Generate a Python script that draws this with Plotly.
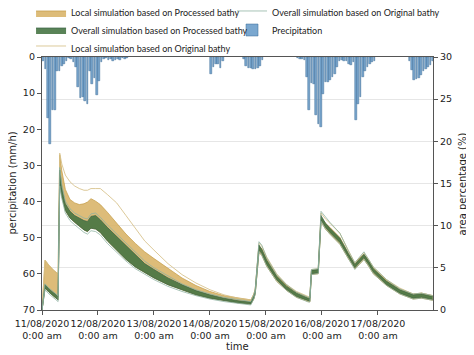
import pandas as pd
import plotly.graph_objects as go

# ---------------- data ----------------
# simulation time points, hours after 11/08/2020 00:00
T_HOURS = [0, 0.5, 1.3, 3, 5, 6.9, 7.6, 8.5, 10, 12, 14, 16, 18, 19.5, 21, 23, 25,
           28, 32, 36, 40, 44, 48, 54, 60, 66, 72, 78, 84, 89.5, 90.8, 91.4, 93.0,
           94.2, 96.3, 100.6, 104.9, 109.1, 114.1, 114.8, 115.5, 118.4, 119.6, 121.5,
           123.4, 127.7, 131.3, 134.1, 136, 138, 140, 142, 147.7, 153.4, 159.1, 162.7, 167.5]

# area percentage (%) envelopes
LOCAL_PROC_HI = [0, 2.0, 5.9, 5.3, 4.7, 4.3, 18.4, 16.5, 14.3, 13.1, 12.7, 12.5, 12.6, 12.8, 13.2, 12.9, 12.5,
                 11.6, 10.3, 9.0, 7.9, 6.9, 6.1, 4.9, 3.8, 2.9, 2.2, 1.7, 1.4, 1.2, 1.9, 2.5, 7.6, 7.3, 6.1,
                 4.1, 2.9, 2.1, 1.5, 1.5, 4.7, 4.8, 11.0, 10.3, 9.8, 8.6, 6.8, 5.5, 6.1, 6.6, 5.9, 5.0, 3.5,
                 2.5, 1.9, 2.0, 1.7]
LOCAL_PROC_LO = [0, 1.0, 2.6, 2.1, 1.6, 1.2, 15.0, 13.5, 11.8, 10.9, 10.4, 9.9, 9.5, 9.3, 9.7, 9.6, 9.2,
                 8.2, 7.1, 6.0, 5.1, 4.4, 3.8, 3.0, 2.4, 1.8, 1.4, 1.1, 0.85, 0.7, 1.3, 1.9, 6.8, 6.5, 5.2,
                 3.4, 2.3, 1.5, 0.95, 0.95, 4.2, 4.3, 10.5, 9.6, 9.0, 7.8, 6.1, 4.9, 5.4, 6.0, 5.2, 4.3, 2.9,
                 1.9, 1.3, 1.4, 1.15]
OVERALL_PROC_HI = [0, 1.2, 3.0, 2.5, 2.0, 1.6, 16.6, 14.5, 12.6, 11.7, 11.2, 10.9, 10.6, 10.5, 11.1, 11.2, 10.7,
                   9.8, 8.7, 7.6, 6.6, 5.5, 4.8, 3.8, 3.0, 2.3, 1.8, 1.4, 1.1, 0.95, 1.7, 2.3, 7.7, 7.2, 5.9,
                   4.0, 2.8, 2.0, 1.4, 1.4, 4.7, 4.8, 11.2, 10.3, 9.7, 8.5, 6.7, 5.4, 6.0, 6.6, 5.8, 4.9, 3.4,
                   2.4, 1.8, 1.9, 1.6]
OVERALL_PROC_LO = [0, 1.0, 2.6, 2.1, 1.6, 1.2, 15.0, 13.5, 11.8, 10.9, 10.4, 9.9, 9.5, 9.3, 9.7, 9.6, 9.2,
                   8.2, 7.1, 6.0, 5.1, 4.4, 3.8, 3.0, 2.4, 1.8, 1.4, 1.1, 0.85, 0.7, 1.4, 2.0, 7.1, 6.7, 5.4,
                   3.6, 2.4, 1.6, 1.05, 1.05, 4.3, 4.4, 10.7, 9.8, 9.2, 8.0, 6.3, 5.0, 5.6, 6.2, 5.4, 4.5, 3.0,
                   2.0, 1.4, 1.5, 1.25]
LOCAL_ORIG_HI = [0, 2.0, 5.9, 5.3, 4.7, 4.3, 18.6, 17.3, 16.0, 15.2, 14.7, 14.4, 14.2, 14.2, 14.4, 14.4, 14.4,
                 13.7, 12.7, 11.2, 9.7, 8.2, 7.1, 5.5, 4.2, 3.2, 2.4, 1.8, 1.4, 1.2, 1.9, 2.5, 7.9, 7.6, 6.3,
                 4.3, 3.0, 2.2, 1.6, 1.6, 4.8, 4.9, 11.5, 10.8, 10.3, 9.1, 7.1, 5.6, 6.2, 6.8, 6.0, 5.1, 3.6,
                 2.6, 1.9, 2.0, 1.7]
LOCAL_ORIG_LO = [0, 1.1, 2.8, 2.3, 1.8, 1.4, 15.4, 13.9, 12.3, 11.4, 10.9, 10.5, 10.2, 10.1, 10.6, 10.6, 10.1,
                 9.1, 8.0, 6.9, 5.9, 5.0, 4.3, 3.4, 2.7, 2.0, 1.6, 1.2, 0.95, 0.8, 1.4, 2.0, 7.0, 6.6, 5.3,
                 3.5, 2.4, 1.6, 1.0, 1.0, 4.3, 4.4, 10.6, 9.7, 9.1, 7.9, 6.2, 4.9, 5.5, 6.1, 5.3, 4.4, 3.0,
                 2.0, 1.4, 1.5, 1.2]
OVERALL_ORIG_HI = [0, 1.2, 3.1, 2.6, 2.1, 1.7, 16.9, 14.8, 12.9, 12.0, 11.5, 11.2, 10.9, 10.8, 11.4, 11.5, 11.0,
                   10.1, 9.0, 7.9, 6.9, 5.8, 5.0, 4.0, 3.1, 2.4, 1.9, 1.5, 1.2, 1.0, 1.8, 2.4, 8.1, 7.7, 6.2,
                   4.2, 3.0, 2.1, 1.5, 1.5, 4.8, 4.9, 11.7, 11.0, 10.4, 9.1, 7.0, 5.6, 6.3, 6.9, 6.0, 5.1, 3.6,
                   2.5, 1.9, 2.0, 1.7]
OVERALL_ORIG_LO = [0, 0.9, 2.4, 1.9, 1.4, 1.0, 14.7, 13.2, 11.5, 10.6, 10.1, 9.6, 9.2, 9.0, 9.4, 9.3, 8.9,
                   7.9, 6.8, 5.8, 4.9, 4.2, 3.6, 2.8, 2.2, 1.7, 1.3, 1.0, 0.8, 0.6, 1.3, 1.9, 6.9, 6.5, 5.2,
                   3.4, 2.3, 1.5, 0.95, 0.95, 4.2, 4.3, 10.5, 9.6, 9.0, 7.8, 6.1, 4.8, 5.4, 6.0, 5.2, 4.3, 2.9,
                   1.9, 1.3, 1.4, 1.15]

# hourly precipitation (mm/h), hour index after 11/08/2020 00:00
PRECIP_HOUR = [0, 1, 2, 3, 4, 5, 6, 7, 8, 9, 10, 11,
               12, 13, 14, 15, 16, 17, 18, 19, 20, 21, 22, 23, 24, 25, 26, 27, 28, 29, 30, 31, 32, 33, 34, 35, 36,
               72, 73, 74, 75, 76, 77,
               86, 87, 88, 89, 90, 91, 92, 93, 94,
               109, 110, 111, 112, 113, 114, 115, 116, 117, 118, 119, 120, 121, 122, 123, 124, 125, 126, 127,
               128, 129, 130, 131, 132, 133, 134, 135, 136, 137, 138, 139, 140, 141, 142,
               157, 158, 159, 160, 161, 162, 163, 164, 165, 166, 167]
PRECIP_MM = [1.0, 3.3, 17.0, 24.0, 14.8, 14.8, 3.8, 3.8, 2.5, 2.0, 1.0, 0.4,
             0.5, 1.5, 2.7, 8.2, 11.4, 11.0, 12.3, 13.0, 4.0, 7.6, 5.8, 10.5, 6.6, 1.5, 0.5, 0.3, 0.8, 0.6, 1.0,
             0.8, 0.5, 0.8, 0.4, 0.6, 0.3,
             4.7, 2.7, 2.0, 1.8, 3.0, 1.0,
             0.5, 2.5, 3.0, 3.0, 3.2, 3.2, 3.0, 2.5, 0.8,
             0.3, 0.5, 0.5, 0.8, 5.5, 14.8, 7.2, 7.6, 16.0, 18.5, 19.4, 10.1, 6.9, 6.9, 6.5, 5.5, 4.7, 2.9, 1.0,
             0.8, 1.0, 1.2, 1.8, 2.1, 1.4, 17.5, 13.0, 11.0, 5.5, 4.0, 2.7, 2.0, 1.5, 1.0,
             1.0, 3.7, 6.4, 6.1, 5.8, 4.9, 4.0, 3.2, 2.8, 2.1, 1.0]

DAY_TICKS = ["2020-08-11", "2020-08-12", "2020-08-13", "2020-08-14", "2020-08-15", "2020-08-16", "2020-08-17"]
DAY_LABELS = ["11/08/2020<br>0:00 am", "12/08/2020<br>0:00 am", "13/08/2020<br>0:00 am", "14/08/2020<br>0:00 am",
              "15/08/2020<br>0:00 am", "16/08/2020<br>0:00 am", "17/08/2020<br>0:00 am"]

# ---------------- figure ----------------
base = pd.Timestamp("2020-08-11 00:00")
t_sim = [base + pd.Timedelta(hours=h) for h in T_HOURS]
t_bar = [base + pd.Timedelta(hours=h + 0.5) for h in PRECIP_HOUR]

FONT = "DejaVu Sans"
fig = go.Figure()

# precipitation bars (left axis, reversed)
fig.add_trace(go.Bar(
    x=t_bar, y=PRECIP_MM, width=0.68 * 3600000, name="Precipitation",
    marker=dict(color="#7aa7cf", line=dict(color="#386a95", width=0.5)),
    yaxis="y", legend="legend4"))

def band(lo, hi, name, fillcolor, linecolor, width, legend):
    fig.add_trace(go.Scatter(x=t_sim, y=lo, yaxis="y2", mode="lines",
                             line=dict(color=linecolor, width=width),
                             showlegend=False, legendgroup=name, hoverinfo="skip"))
    fig.add_trace(go.Scatter(x=t_sim, y=hi, yaxis="y2", mode="lines", fill="tonexty",
                             fillcolor=fillcolor, line=dict(color=linecolor, width=width),
                             name=name, legendgroup=name, legend=legend))

band(LOCAL_PROC_LO, LOCAL_PROC_HI, "Local simulation based on Processed bathy",
     "rgba(215,176,98,0.85)", "rgba(196,156,70,0.9)", 0.8, "legend")
band(LOCAL_ORIG_LO, LOCAL_ORIG_HI, "Local simulation based on Original bathy",
     "rgba(0,0,0,0)", "rgba(214,192,135,0.95)", 0.9, "legend5")
band(OVERALL_PROC_LO, OVERALL_PROC_HI, "Overall simulation based on Processed bathy",
     "rgba(66,114,64,0.88)", "rgba(60,100,70,0.9)", 0.8, "legend3")
band(OVERALL_ORIG_LO, OVERALL_ORIG_HI, "Overall simulation based on Original bathy",
     "rgba(0,0,0,0)", "rgba(140,178,160,0.85)", 0.9, "legend2")

axis_common = dict(showline=True, linecolor="#555555", linewidth=1.3, ticks="outside",
                   ticklen=4, tickcolor="#555555", zeroline=False, automargin=False,
                   tickfont=dict(family=FONT, size=9.5, color="#222222"))

title_font = dict(family=FONT, size=10, color="#222222")
leg = dict(orientation="v", xref="paper", yref="paper", xanchor="left", yanchor="middle",
           itemwidth=30, bgcolor="rgba(0,0,0,0)", font=dict(family="Lato", size=9, color="#222222"))
COL1_X, COL2_X = -0.028, 0.486
ROW_Y = [1.174, 1.1067, 1.0356]

# the page body adds an 8px offset, so the figure is 8px smaller and margins shifted
fig.update_layout(
    width=466, height=347,
    margin=dict(l=34, r=41, t=49, b=45, autoexpand=False),
    paper_bgcolor="white", plot_bgcolor="white",
    bargap=0,
    font=dict(family=FONT, size=10, color="#222222"),
    xaxis=dict(type="date", range=[base, base + pd.Timedelta(hours=167.6)],
               tickvals=DAY_TICKS, ticktext=DAY_LABELS, showgrid=False, mirror=True, tickangle=0,
               **axis_common),
    yaxis=dict(range=[70, 0], tickvals=[0, 10, 20, 30, 40, 50, 60, 70], showgrid=False,
               **axis_common),
    yaxis2=dict(range=[0, 30], tickvals=[0, 5, 10, 15, 20, 25, 30], overlaying="y", side="right",
                showgrid=True, gridcolor="#e6e6e6", gridwidth=1,
                **axis_common),
    legend=dict(x=COL1_X, y=ROW_Y[0], **leg),
    legend2=dict(x=COL2_X, y=ROW_Y[0], **leg),
    legend3=dict(x=COL1_X, y=ROW_Y[1], **leg),
    legend4=dict(x=COL2_X, y=ROW_Y[1], **leg),
    legend5=dict(x=COL1_X, y=ROW_Y[2], **leg),
    annotations=[
        dict(text="time", xref="paper", yref="paper", x=0.5, y=-0.146, xanchor="center",
             yanchor="middle", showarrow=False, font=title_font),
        dict(text="percipitation (mm/h)", xref="paper", yref="paper", x=-0.0767, y=0.5,
             xanchor="center", yanchor="middle", textangle=-90, showarrow=False, font=title_font),
        dict(text="area percentage (%)", xref="paper", yref="paper", x=1.0767, y=0.5,
             xanchor="center", yanchor="middle", textangle=-90, showarrow=False, font=title_font),
    ],
)

fig.write_html("out.html")
